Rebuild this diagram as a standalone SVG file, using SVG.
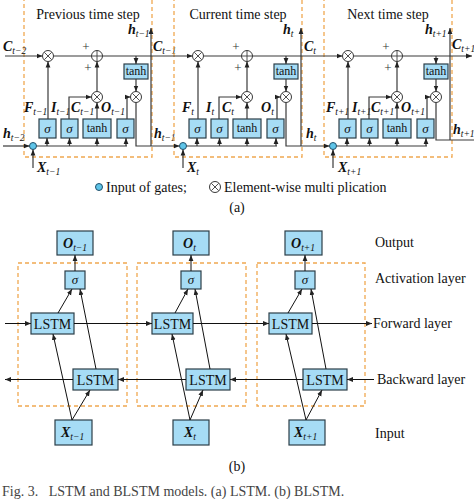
<svg xmlns="http://www.w3.org/2000/svg" width="474" height="499" viewBox="0 0 474 499">
<style>
.bg{fill:#ffffff}
.dash{fill:none;stroke:#f0a850;stroke-width:1.3;stroke-dasharray:4,3}
.box{fill:#a6dcf5;stroke:#2c3e48;stroke-width:1.2}
.ln{fill:none;stroke:#3a3a3a;stroke-width:1.2}
.lb{fill:none;stroke:#111;stroke-width:1}
.op{fill:#ffffff;stroke:#3a3a3a;stroke-width:1}
.dot{fill:#5ec4e8;stroke:#1f4f6a;stroke-width:1}
.t{font-family:"Liberation Serif","Times New Roman",serif;font-size:14px;fill:#111}
.tc{font-family:"Liberation Serif","Times New Roman",serif;font-size:14px;fill:#111;text-anchor:middle}
.sg{font-family:"Liberation Serif","Times New Roman",serif;font-size:13px;font-style:italic;fill:#111;text-anchor:middle}
.th{font-family:"Liberation Serif","Times New Roman",serif;font-size:12px;fill:#111;text-anchor:middle}
.m{font-family:"Liberation Serif","Times New Roman",serif;font-size:14px;font-weight:bold;font-style:italic;fill:#111}
.s{font-size:9.5px;font-weight:normal;font-style:italic}
.pl{font-family:"Liberation Serif","Times New Roman",serif;font-size:13px;fill:#333;text-anchor:middle}
.cap{font-family:"Liberation Serif","Times New Roman",serif;font-size:14px;fill:#444}
</style>
<defs>
<marker id="ar" viewBox="0 0 10 10" markerWidth="6" markerHeight="6" refX="10" refY="5" orient="auto" markerUnits="userSpaceOnUse">
<path d="M0,1 L10,5 L0,9 z" fill="#222"/>
</marker>
<g id="mul">
<circle r="5.5" class="op"/>
<path d="M-3.6,-3.6 L3.6,3.6 M-3.6,3.6 L3.6,-3.6" stroke="#3a3a3a" stroke-width="0.9"/>
</g>
<g id="add">
<circle r="5.5" class="op"/>
<path d="M-5.5,0 H5.5 M0,-5.5 V5.5" stroke="#3a3a3a" stroke-width="0.9"/>
</g>
</defs>
<rect class="bg" x="0" y="0" width="474" height="499"/>

<!-- ===== (a) LSTM cells ===== -->
<g id="cell1">
<rect class="dash" x="24" y="-5" width="128" height="162"/>
<text class="tc" x="88" y="19">Previous time step</text>
<use href="#mul" x="48" y="56"/>
<use href="#add" x="97" y="56"/>
<text class="pl" x="86" y="51">+</text>
<text class="pl" x="88" y="72">+</text>
<rect class="box" x="124" y="64" width="24" height="15"/>
<text class="th" x="136" y="75">tanh</text>
<use href="#mul" x="97" y="97"/>
<use href="#mul" x="136" y="97"/>
<rect class="box" x="39" y="119" width="17" height="19"/>
<text class="sg" x="47.5" y="133">σ</text>
<rect class="box" x="61" y="119" width="17" height="19"/>
<text class="sg" x="69.5" y="133">σ</text>
<rect class="box" x="83" y="119" width="28" height="19"/>
<text class="th" x="97" y="132">tanh</text>
<rect class="box" x="117" y="119" width="17" height="19"/>
<text class="sg" x="125.5" y="133">σ</text>
<circle class="dot" cx="33" cy="146" r="3.5"/>
<text class="m" x="3" y="51">C<tspan class="s" dy="3">t−2</tspan></text>
<text class="m" x="24" y="112">F<tspan class="s" dy="3">t−1</tspan></text>
<text class="m" x="51" y="112">I<tspan class="s" dy="3">t−1</tspan></text>
<text class="m" x="71" y="112">C<tspan class="s" dy="3">t−1</tspan></text>
<text class="m" x="101" y="112">O<tspan class="s" dy="3">t−1</tspan></text>
<text class="m" x="128" y="34">h<tspan class="s" dy="3">t−1</tspan></text>
<text class="m" x="153" y="51">C<tspan class="s" dy="3">t−1</tspan></text>
<text class="m" x="3" y="138">h<tspan class="s" dy="3">t−2</tspan></text>
<text class="m" x="154" y="138">h<tspan class="s" dy="3">t−1</tspan></text>
<text class="m" x="37" y="172">X<tspan class="s" dy="3">t−1</tspan></text>
</g>

<g id="cell2">
<rect class="dash" x="174" y="-5" width="128" height="162"/>
<text class="tc" x="238" y="19">Current time step</text>
<use href="#mul" x="198" y="56"/>
<use href="#add" x="247" y="56"/>
<text class="pl" x="236" y="51">+</text>
<text class="pl" x="238" y="72">+</text>
<rect class="box" x="274" y="64" width="24" height="15"/>
<text class="th" x="286" y="75">tanh</text>
<use href="#mul" x="247" y="97"/>
<use href="#mul" x="286" y="97"/>
<rect class="box" x="189" y="119" width="17" height="19"/>
<text class="sg" x="197.5" y="133">σ</text>
<rect class="box" x="211" y="119" width="17" height="19"/>
<text class="sg" x="219.5" y="133">σ</text>
<rect class="box" x="233" y="119" width="28" height="19"/>
<text class="th" x="247" y="132">tanh</text>
<rect class="box" x="267" y="119" width="17" height="19"/>
<text class="sg" x="275.5" y="133">σ</text>
<circle class="dot" cx="183" cy="146" r="3.5"/>
<text class="m" x="182" y="112">F<tspan class="s" dy="3">t</tspan></text>
<text class="m" x="206" y="112">I<tspan class="s" dy="3">t</tspan></text>
<text class="m" x="222" y="112">C<tspan class="s" dy="3">t</tspan></text>
<text class="m" x="261" y="112">O<tspan class="s" dy="3">t</tspan></text>
<text class="m" x="283" y="34">h<tspan class="s" dy="3">t</tspan></text>
<text class="m" x="304" y="51">C<tspan class="s" dy="3">t</tspan></text>
<text class="m" x="306" y="138">h<tspan class="s" dy="3">t</tspan></text>
<text class="m" x="187" y="172">X<tspan class="s" dy="3">t</tspan></text>
</g>

<g id="cell3">
<rect class="dash" x="324" y="-5" width="128" height="162"/>
<text class="tc" x="388" y="19">Next time step</text>
<use href="#mul" x="348" y="56"/>
<use href="#add" x="397" y="56"/>
<text class="pl" x="386" y="51">+</text>
<text class="pl" x="388" y="72">+</text>
<rect class="box" x="424" y="64" width="24" height="15"/>
<text class="th" x="436" y="75">tanh</text>
<use href="#mul" x="397" y="97"/>
<use href="#mul" x="436" y="97"/>
<rect class="box" x="339" y="119" width="17" height="19"/>
<text class="sg" x="347.5" y="133">σ</text>
<rect class="box" x="361" y="119" width="17" height="19"/>
<text class="sg" x="369.5" y="133">σ</text>
<rect class="box" x="383" y="119" width="28" height="19"/>
<text class="th" x="397" y="132">tanh</text>
<rect class="box" x="417" y="119" width="17" height="19"/>
<text class="sg" x="425.5" y="133">σ</text>
<circle class="dot" cx="333" cy="146" r="3.5"/>
<text class="m" x="326" y="112">F<tspan class="s" dy="3">t+1</tspan></text>
<text class="m" x="352" y="112">I<tspan class="s" dy="3">t+1</tspan></text>
<text class="m" x="371" y="112">C<tspan class="s" dy="3">t+1</tspan></text>
<text class="m" x="401" y="112">O<tspan class="s" dy="3">t+1</tspan></text>
<text class="m" x="425" y="34">h<tspan class="s" dy="3">t+1</tspan></text>
<text class="m" x="452" y="49">C<tspan class="s" dy="3">t+1</tspan></text>
<text class="m" x="453" y="134">h<tspan class="s" dy="3">t+1</tspan></text>
<text class="m" x="338" y="172">X<tspan class="s" dy="3">t+1</tspan></text>
</g>

<g id="connectors-a">
<path class="ln" d="M5,56 H42.5" marker-end="url(#ar)"/>
<path class="ln" d="M53.5,56 H91.5"/>
<path class="ln" d="M102.5,56 H192.5" marker-end="url(#ar)"/>
<path class="ln" d="M203.5,56 H241.5"/>
<path class="ln" d="M252.5,56 H342.5" marker-end="url(#ar)"/>
<path class="ln" d="M353.5,56 H391.5"/>
<path class="ln" d="M402.5,56 H472" marker-end="url(#ar)"/>
<path class="ln" d="M3,146 H29.5" marker-end="url(#ar)"/>
<g id="wires1">
<path class="ln" d="M48,119 V61.5" marker-end="url(#ar)"/>
<path class="ln" d="M69,119 V97 H91.5" marker-end="url(#ar)"/>
<path class="ln" d="M97,119 V102.5" marker-end="url(#ar)"/>
<path class="ln" d="M97,91.5 V61.5" marker-end="url(#ar)"/>
<path class="ln" d="M127,119 V97 H130.5" marker-end="url(#ar)"/>
<path class="ln" d="M136,56 V64" marker-end="url(#ar)"/>
<path class="ln" d="M136,79 V91.5" marker-end="url(#ar)"/>
<path class="ln" d="M136,102.5 V146 H179.5" marker-end="url(#ar)"/>
<path class="ln" d="M151,146 V28" marker-end="url(#ar)"/>
<path class="ln" d="M36.5,146 H127"/>
<path class="ln" d="M47,146 V138" marker-end="url(#ar)"/>
<path class="ln" d="M69.5,146 V138" marker-end="url(#ar)"/>
<path class="ln" d="M97,146 V138" marker-end="url(#ar)"/>
<path class="ln" d="M126,146 V138" marker-end="url(#ar)"/>
<path class="ln" d="M33,168 V149.5" marker-end="url(#ar)"/>
</g>
<g id="wires2">
<path class="ln" d="M198,119 V61.5" marker-end="url(#ar)"/>
<path class="ln" d="M219,119 V97 H241.5" marker-end="url(#ar)"/>
<path class="ln" d="M247,119 V102.5" marker-end="url(#ar)"/>
<path class="ln" d="M247,91.5 V61.5" marker-end="url(#ar)"/>
<path class="ln" d="M277,119 V97 H280.5" marker-end="url(#ar)"/>
<path class="ln" d="M286,56 V64" marker-end="url(#ar)"/>
<path class="ln" d="M286,79 V91.5" marker-end="url(#ar)"/>
<path class="ln" d="M286,102.5 V146 H329.5" marker-end="url(#ar)"/>
<path class="ln" d="M301,146 V28" marker-end="url(#ar)"/>
<path class="ln" d="M186.5,146 H277"/>
<path class="ln" d="M197,146 V138" marker-end="url(#ar)"/>
<path class="ln" d="M219.5,146 V138" marker-end="url(#ar)"/>
<path class="ln" d="M247,146 V138" marker-end="url(#ar)"/>
<path class="ln" d="M276,146 V138" marker-end="url(#ar)"/>
<path class="ln" d="M183,168 V149.5" marker-end="url(#ar)"/>
</g>
<g id="wires3">
<path class="ln" d="M348,119 V61.5" marker-end="url(#ar)"/>
<path class="ln" d="M369,119 V97 H391.5" marker-end="url(#ar)"/>
<path class="ln" d="M397,119 V102.5" marker-end="url(#ar)"/>
<path class="ln" d="M397,91.5 V61.5" marker-end="url(#ar)"/>
<path class="ln" d="M427,119 V97 H430.5" marker-end="url(#ar)"/>
<path class="ln" d="M436,56 V64" marker-end="url(#ar)"/>
<path class="ln" d="M436,79 V91.5" marker-end="url(#ar)"/>
<path class="ln" d="M436,102.5 V140 H474"/>
<path class="ln" d="M450,140 V28" marker-end="url(#ar)"/>
<path class="ln" d="M336.5,146 H427"/>
<path class="ln" d="M347,146 V138" marker-end="url(#ar)"/>
<path class="ln" d="M369.5,146 V138" marker-end="url(#ar)"/>
<path class="ln" d="M397,146 V138" marker-end="url(#ar)"/>
<path class="ln" d="M426,146 V138" marker-end="url(#ar)"/>
<path class="ln" d="M333,168 V149.5" marker-end="url(#ar)"/>
</g>
</g>

<g id="legend-a">
<circle class="dot" cx="99" cy="187" r="3.5"/>
<text class="t" x="106" y="192">Input of gates;</text>
<use href="#mul" x="215" y="187"/>
<text class="t" x="224" y="192">Element-wise multi plication</text>
<text class="tc" x="237" y="212">(a)</text>
</g>

<!-- ===== (b) BLSTM ===== -->
<g id="frames-b">
<rect class="dash" x="18" y="263" width="109" height="143"/>
<rect class="dash" x="137" y="263" width="109" height="143"/>
<rect class="dash" x="257" y="263" width="108" height="143"/>
</g>
<g id="O1"><rect class="box" x="57" y="231" width="36" height="24"/><text class="m" x="63" y="248">O<tspan class="s" dy="3">t−1</tspan></text></g>
<g id="O2"><rect class="box" x="173" y="231" width="36" height="24"/><text class="m" x="183" y="248">O<tspan class="s" dy="3">t</tspan></text></g>
<g id="O3"><rect class="box" x="285" y="231" width="37" height="24"/><text class="m" x="291" y="248">O<tspan class="s" dy="3">t+1</tspan></text></g>
<g id="S1"><rect class="box" x="65" y="271" width="20" height="18"/><text class="sg" x="75" y="284">σ</text></g>
<g id="S2"><rect class="box" x="181" y="271" width="20" height="18"/><text class="sg" x="191" y="284">σ</text></g>
<g id="S3"><rect class="box" x="295" y="271" width="20" height="18"/><text class="sg" x="305" y="284">σ</text></g>
<g id="F1"><rect class="box" x="31" y="313" width="43" height="21"/><text class="tc" x="52.5" y="328.5">LSTM</text></g>
<g id="F2"><rect class="box" x="152" y="313" width="41" height="21"/><text class="tc" x="172.5" y="328.5">LSTM</text></g>
<g id="F3"><rect class="box" x="269" y="313" width="43" height="21"/><text class="tc" x="290.5" y="328.5">LSTM</text></g>
<g id="B1"><rect class="box" x="73" y="369" width="45" height="21"/><text class="tc" x="95.5" y="384.5">LSTM</text></g>
<g id="B2"><rect class="box" x="186" y="369" width="44" height="21"/><text class="tc" x="208" y="384.5">LSTM</text></g>
<g id="B3"><rect class="box" x="303" y="369" width="44" height="21"/><text class="tc" x="325" y="384.5">LSTM</text></g>
<g id="X1"><rect class="box" x="55" y="420" width="37" height="25"/><text class="m" x="61" y="437">X<tspan class="s" dy="3">t−1</tspan></text></g>
<g id="X2"><rect class="box" x="173" y="420" width="36" height="25"/><text class="m" x="184" y="437">X<tspan class="s" dy="3">t</tspan></text></g>
<g id="X3"><rect class="box" x="289" y="420" width="36" height="25"/><text class="m" x="294" y="437">X<tspan class="s" dy="3">t+1</tspan></text></g>

<g id="connectors-b">
<path class="lb" d="M5,323.5 H31" marker-end="url(#ar)"/>
<path class="lb" d="M74,323.5 H152" marker-end="url(#ar)"/>
<path class="lb" d="M193,323.5 H269" marker-end="url(#ar)"/>
<path class="lb" d="M312,323.5 H372" marker-end="url(#ar)"/>
<path class="lb" d="M374,379.5 H347" marker-end="url(#ar)"/>
<path class="lb" d="M303,379.5 H230" marker-end="url(#ar)"/>
<path class="lb" d="M186,379.5 H118" marker-end="url(#ar)"/>
<path class="lb" d="M73,379.5 H5" marker-end="url(#ar)"/>
<path class="lb" d="M72,420 L90,390" marker-end="url(#ar)"/>
<path class="lb" d="M72,420 L53,334" marker-end="url(#ar)"/>
<path class="lb" d="M58,313 L72,289" marker-end="url(#ar)"/>
<path class="lb" d="M96,369 L80,289" marker-end="url(#ar)"/>
<path class="lb" d="M75,271 V255" marker-end="url(#ar)"/>
<path class="lb" d="M190,420 L203,390" marker-end="url(#ar)"/>
<path class="lb" d="M190,420 L172,334" marker-end="url(#ar)"/>
<path class="lb" d="M175,313 L188,289" marker-end="url(#ar)"/>
<path class="lb" d="M210,369 L195,289" marker-end="url(#ar)"/>
<path class="lb" d="M191,271 V255" marker-end="url(#ar)"/>
<path class="lb" d="M306,420 L322,390" marker-end="url(#ar)"/>
<path class="lb" d="M306,420 L286,334" marker-end="url(#ar)"/>
<path class="lb" d="M288,313 L302,289" marker-end="url(#ar)"/>
<path class="lb" d="M326,369 L311,289" marker-end="url(#ar)"/>
<path class="lb" d="M305,271 V255" marker-end="url(#ar)"/>
</g>

<g id="labels-b">
<text class="t" x="375" y="247">Output</text>
<text class="t" x="375" y="283">Activation layer</text>
<text class="t" x="373" y="328">Forward layer</text>
<text class="t" x="377" y="384">Backward layer</text>
<text class="t" x="375" y="438">Input</text>
<text class="tc" x="237" y="471">(b)</text>
<text class="cap" x="2" y="496" xml:space="preserve">Fig. 3.   LSTM and BLSTM models. (a) LSTM. (b) BLSTM.</text>
</g>
</svg>
